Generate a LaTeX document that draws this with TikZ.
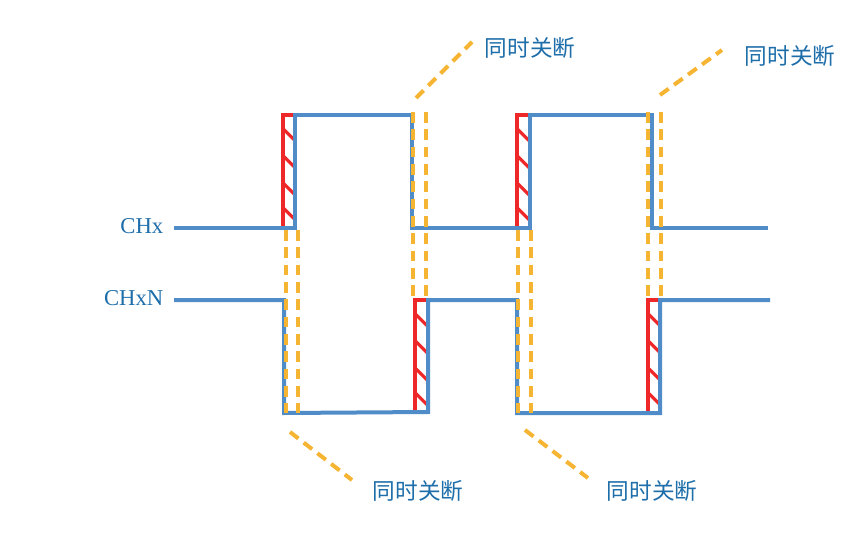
\documentclass[tikz,border=0pt]{standalone}
\usepackage{fontspec}
\setmainfont{Liberation Serif}
\newfontfamily\cjk{Noto Sans CJK SC}
\begin{document}
\definecolor{sigblue}{RGB}{80,140,200}
\definecolor{dashor}{RGB}{245,180,50}
\definecolor{hatred}{RGB}{238,40,40}
\definecolor{txtblue}{RGB}{30,110,170}
\begin{tikzpicture}[x=0.75pt,y=-0.75pt,
  sig/.style={draw=sigblue,line width=3pt},
  red/.style={draw=hatred,line width=2.4pt},
  od/.style={draw=dashor,line width=3pt,dash pattern=on 8pt off 5pt},
  lab/.style={text=txtblue,font=\fontsize{17}{20}\selectfont},
  clab/.style={text=txtblue,font=\cjk\fontsize{17}{20}\selectfont}]
\useasboundingbox (0,0) rectangle (860,535);
% labels
\node[lab,anchor=east] (chx) at (168,226) {CHx};
\node[lab,anchor=east] (chxn) at (168,298) {CHxN};
\node[clab] (t1) at (530,48) {同时关断};
\node[clab] (t2) at (790,56) {同时关断};
\node[clab] (t3) at (418,491) {同时关断};
\node[clab] (t4) at (652,491) {同时关断};
% red hatch
\foreach \x/\yt/\yb in {283/115/228, 517/115/228, 415/300/413, 648/300/413}{
  \draw[red] (\x,\yb) -- (\x,\yt) -- (\x+12,\yt);
  \foreach \d in {0.12,0.36,0.6,0.82}{
    \draw[red] (\x,{\yt+\d*(\yb-\yt)}) -- (\x+12,{\yt+\d*(\yb-\yt)+12});
  }
}
% signals
\draw[sig] (chx.east) ++(6,2) coordinate (a0) -- (295,228) -- (295,115) -- (412,115) -- (412,228) -- (530,228) -- (530,115) -- (652,115) -- (652,228) -- (768,228);
\draw[sig] (chxn.east) ++(6,2) coordinate (b0) -- (284,300) -- (284,413) -- (428,412) -- (428,300) -- (517,300) -- (517,413) -- (660,413) -- (660,300) -- (770,300);
% dashed verticals
\foreach \x in {286,298,518,531}{\draw[od] (\x,230) -- (\x,413);}
\foreach \x in {413,426,648,661}{\draw[od] (\x,112) -- (\x,300);}
% leaders
\draw[od] (416,98) -- (472,42);
\draw[od] (660,95) -- (722,50);
\draw[od] (290,432) -- (352,480);
\draw[od] (525,430) -- (588,478);
\end{tikzpicture}
\end{document}
